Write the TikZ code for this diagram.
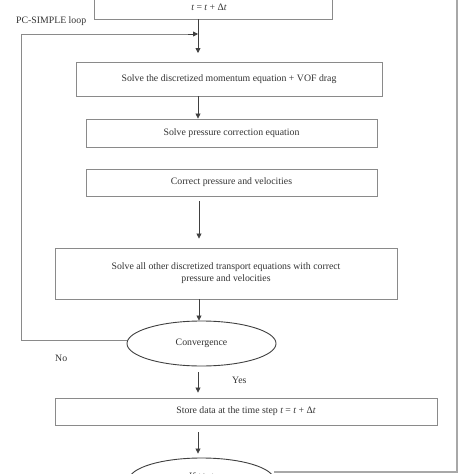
\documentclass[tikz,border=0pt]{standalone}
\usepackage{fontspec}
\setmainfont{Liberation Serif}
\usetikzlibrary{arrows.meta,shapes.geometric}
\definecolor{txt}{HTML}{333333}
\definecolor{boxline}{HTML}{8A8A8A}
\definecolor{arr}{HTML}{404040}
\definecolor{outer}{HTML}{A8A8A8}
\tikzset{
  stepbox/.style={draw=boxline, line width=0.9pt, rectangle, align=center, text=txt, font=\fontsize{9.8}{12}\selectfont, inner sep=0pt},
  decis/.style={draw=arr, line width=0.9pt, ellipse, align=center, text=txt, font=\fontsize{9.8}{12}\selectfont, inner sep=0pt},
  flow/.style={draw=arr, line width=0.8pt, -{Triangle[length=5pt,width=5pt]}},
  loopline/.style={draw=boxline, line width=0.9pt},
  outerline/.style={draw=outer, line width=2pt},
  lbl/.style={text=txt, font=\fontsize{9.8}{11}\selectfont, inner sep=0pt}
}
\newcommand{\vi}[1]{{\itshape #1}}
\begin{document}
\begin{tikzpicture}[x=1pt,y=-1pt]
\useasboundingbox[fill=white] (0,0) rectangle (474,474);
\clip (0,0) rectangle (474,474);
% nodes
\node[stepbox, minimum width=238pt, minimum height=50pt] (top) at (213,-6) {};
\node[lbl] (toptxt) at (209,7) {\vi{t} = \vi{t} + Δ\vi{t}};
\node[stepbox, minimum width=306pt, minimum height=34pt] (mom) at (229,79) {Solve the discretized momentum equation + VOF drag};
\node[stepbox, minimum width=291pt, minimum height=28pt] (pcor) at (231.5,133) {Solve pressure correction equation};
\node[stepbox, minimum width=291pt, minimum height=27pt] (corr) at (231.5,182.5) {Correct pressure and velocities};
\node[stepbox, minimum width=342pt, minimum height=51pt] (trans) at (226,273.5) {Solve all other discretized transport equations with correct\\pressure and velocities};
\node[decis, minimum width=149pt, minimum height=45pt] (conv) at (201.5,343.5) {Convergence};
\node[stepbox, minimum width=382pt, minimum height=27pt] (store) at (246,411.5) {Store data at the time step \vi{t} = \vi{t} + Δ\vi{t}};
\node[decis, minimum width=145pt, minimum height=44pt] (ift) at (201.5,480) {};
\node[lbl] (iftxt) at (201.5,476) {If \vi{t} > \vi{t}};
% labels
\node[lbl, anchor=west] (pcs) at (16,21) {PC-SIMPLE loop};
\node[lbl, anchor=west] (no) at (55,358) {No};
\node[lbl, anchor=west] (yes) at (232,380) {Yes};
% coordinates
\coordinate (join) at (198,34);
\coordinate (lcorner) at (21,340);
\coordinate (ltop) at (21,34);
\coordinate (rb) at (274,472);
\coordinate (rtop) at (457,-10);
% connectors
\draw[flow, shorten >=9pt] (198,19) -- (198,62);
\draw[flow] (mom.south -| 198,0) -- (pcor.north -| 198,0);
\draw[flow, shorten <=5pt, shorten >=9pt] (corr.south -| 199,0) -- (trans.north -| 199,0);
\draw[flow] (trans.south -| 199,0) -- (conv.north -| 199,0);
\draw[flow, shorten <=6pt, shorten >=5pt] (conv.south -| 198,0) -- (store.north -| 198,0);
\draw[flow, shorten <=7pt, shorten >=4pt] (store.south -| 198,0) -- (ift.north -| 198,0);
\draw[loopline] (conv.west |- lcorner) -- (lcorner) -- (ltop) -- (190,34);
\draw[flow, draw=arr] (188,34) -- (join);
\draw[outerline] (rb) -- (457,472) -- (rtop);
\end{tikzpicture}
\end{document}
